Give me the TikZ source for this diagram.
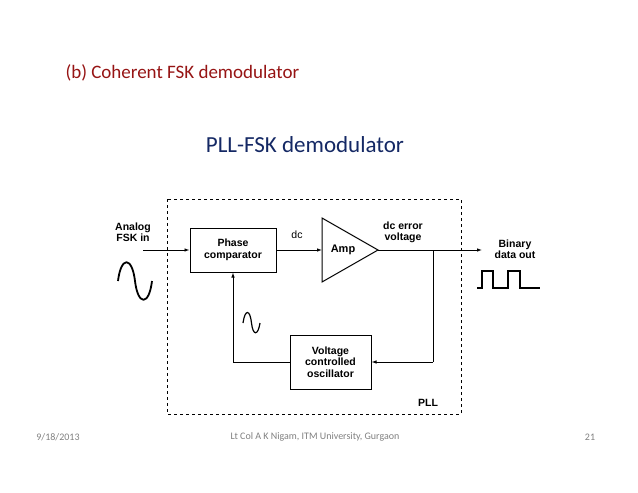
\documentclass[tikz,border=0pt]{standalone}
\usepackage{fontspec}
\setmainfont{Carlito}
\newfontfamily\diagfont{Liberation Sans}
\usetikzlibrary{arrows.meta,shapes.geometric}
\definecolor{titlered}{RGB}{150,20,20}
\definecolor{navy}{RGB}{20,40,100}
\begin{document}
\begin{tikzpicture}[x=1pt,y=-1pt,
  blk/.style={draw,line width=1pt,align=center,font=\diagfont\bfseries\fontsize{10.5}{11.5}\selectfont,inner sep=0pt},
  lbl/.style={align=center,font=\diagfont\fontsize{10.5}{11}\selectfont},
  wire/.style={line width=0.8pt},
  arr/.style={wire,-{Latex[length=5pt,width=3.5pt]}}]
\useasboundingbox (0,0) rectangle (638,493);
\node[anchor=west,text=titlered,font=\fontsize{19}{21}\selectfont] (title) at (62,73) {(b) Coherent FSK demodulator};
\node[text=navy,font=\fontsize{23}{25}\selectfont] (sub) at (305,145) {PLL-FSK demodulator};
\node[text=gray,font=\fontsize{10}{11}\selectfont] (d) at (58,437) {9/18/2013};
\node[text=gray,font=\fontsize{10}{11}\selectfont] (auth) at (315,437) {Lt Col A K Nigam, ITM University, Gurgaon};
\node[text=gray,font=\fontsize{10}{11}\selectfont] (pg) at (590,437) {21};
\draw[dashed,line width=0.8pt] (167,199) rectangle (461,414);
\node[blk,minimum width=86pt,minimum height=44pt] (pc) at (233,250) {Phase\\comparator};
\node[blk,minimum width=81pt,minimum height=54pt] (vco) at (330.5,362) {Voltage\\controlled\\oscillator};
\coordinate (t1) at (322,218); \coordinate (t2) at (322,282); \coordinate (tip) at (378,250);
\draw[line width=1pt] (t1) -- (tip) -- (t2) -- cycle;
\node[lbl,font=\diagfont\bfseries\fontsize{11}{11}\selectfont] (amp) at (343,250) {Amp};
\coordinate (in) at (143,250);
\coordinate (out) at (482,250);
\coordinate (br) at (433,250);
\coordinate (brd) at (433,362);
\coordinate (fb) at (233,362);
\draw[arr] (in) -- (pc.west);
\draw[arr] (pc.east) -- (t1 |- pc.east);
\draw[arr] (tip) -- (out);
\draw[wire] (br) -- (brd);
\draw[arr] (brd) -- (vco.east);
\draw[wire] (vco.west) -- (fb);
\draw[arr] (fb) -- (pc.south);
\node[lbl] (dc) at (297,235) {dc};
\node[lbl,font=\diagfont\bfseries\fontsize{10.5}{11}\selectfont] (dce) at (403,232) {dc error\\voltage};
\node[lbl,font=\diagfont\bfseries\fontsize{10.5}{11}\selectfont] (ain) at (133,232) {Analog\\FSK in};
\node[lbl,font=\diagfont\bfseries\fontsize{10.5}{11}\selectfont] (bout) at (515,249) {Binary\\data out};
\node[lbl,font=\diagfont\bfseries\fontsize{10.5}{11}\selectfont] (pll) at (428,403) {PLL};
% big sine
\draw[line width=1.8pt] (118,281) .. controls (121,256) and (132,256) .. (135,281) .. controls (138,306) and (149,306) .. (152,281);
% small sine
\draw[line width=1.2pt] (243,323) .. controls (245,309) and (250,309) .. (251.5,323) .. controls (253,336) and (258,336) .. (260,323);
% square wave
\draw[line width=1.6pt] (477,288) -- (482,288) -- (482,271) -- (493,271) -- (493,288) -- (508,288) -- (508,271) -- (520,271) -- (520,288) -- (540,288);
\end{tikzpicture}
\end{document}
